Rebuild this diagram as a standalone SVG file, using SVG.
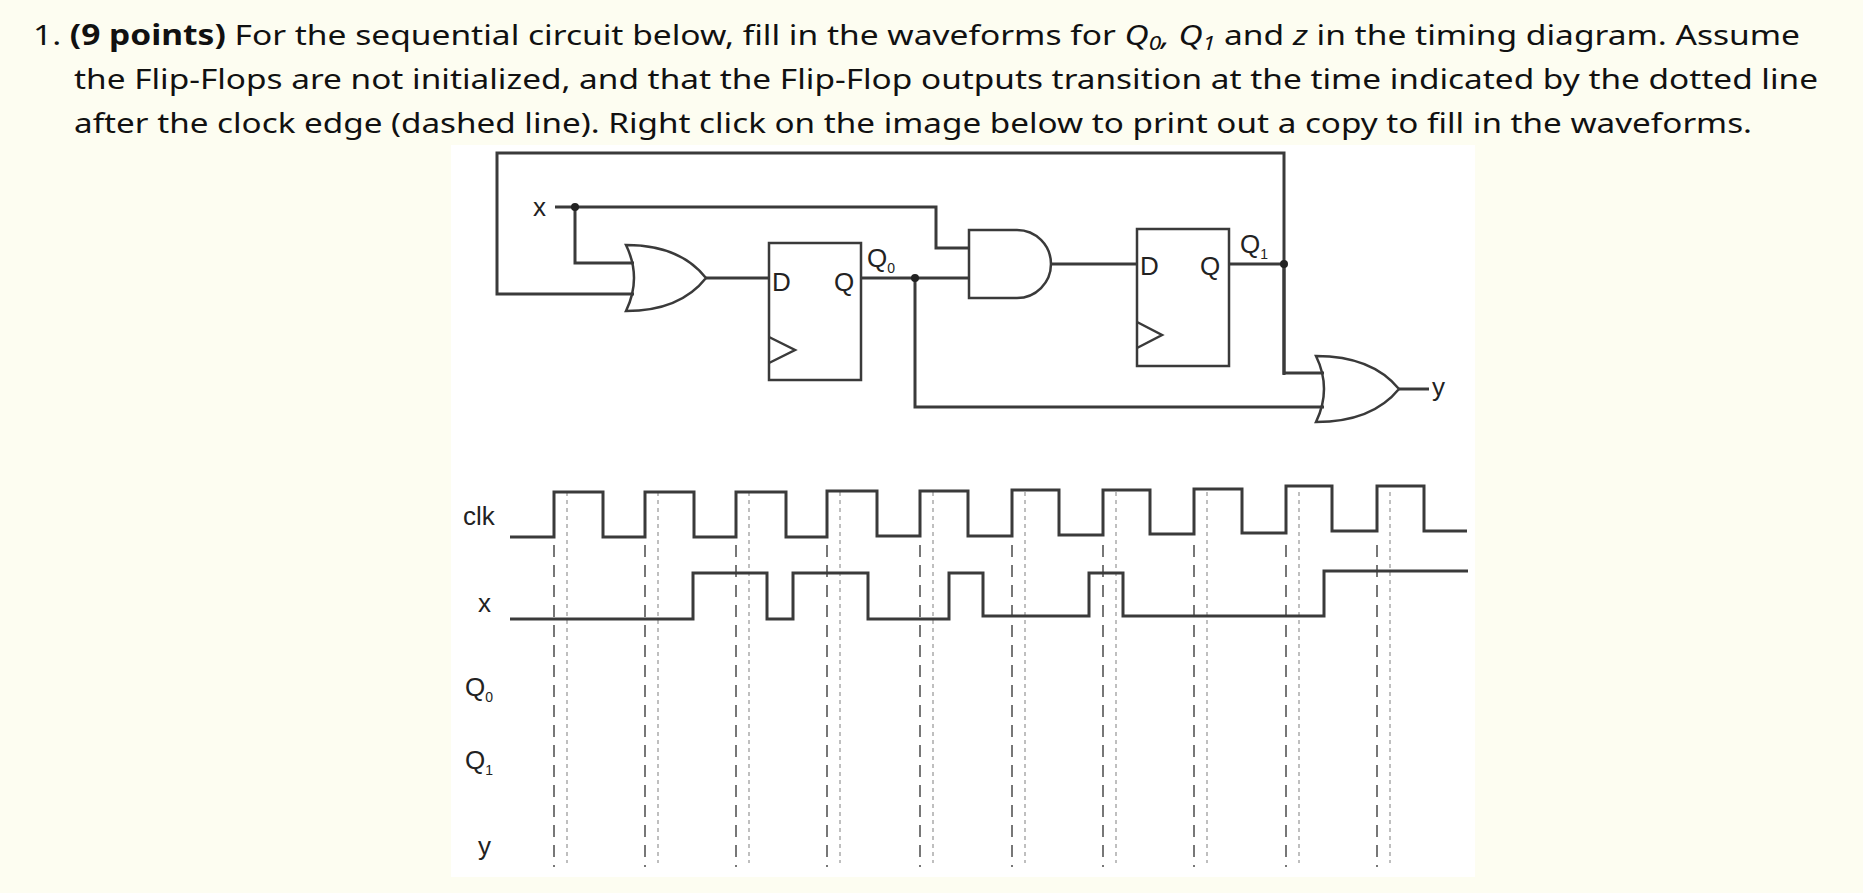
<svg xmlns="http://www.w3.org/2000/svg" width="1863" height="893" viewBox="0 0 1863 893">
<style>
.t{font-family:"Noto Sans","Open Sans","Liberation Sans",sans-serif;font-size:28px;fill:#111}
.w{fill:none;stroke:#3a3a3a;stroke-width:3;stroke-linejoin:miter}
.g{fill:none;stroke:#3a3a3a;stroke-width:2.5}
.l{font-family:"Liberation Sans",Arial,sans-serif;fill:#222;font-size:22px}
.c{font-size:26px}
.dash{stroke:#777;stroke-width:2;stroke-dasharray:12,8}
.dot{stroke:#aaa;stroke-width:1.5;stroke-dasharray:4,4}
</style>
<rect width="1863" height="893" fill="#fdfdf1"/>
<rect x="451" y="145" width="1024" height="732" fill="#fff"/>
<g id="title">
<text class="t" x="33" y="45" textLength="1767" lengthAdjust="spacingAndGlyphs">1. <tspan font-weight="bold">(9 points)</tspan> For the sequential circuit below, fill in the waveforms for <tspan font-style="italic">Q<tspan font-size="19" dy="5">0</tspan><tspan dy="-5">,</tspan> Q<tspan font-size="19" dy="5">1</tspan></tspan><tspan dy="-5"> and </tspan><tspan font-style="italic">z</tspan> in the timing diagram. Assume</text>
<text class="t" x="74" y="89" textLength="1744" lengthAdjust="spacingAndGlyphs">the Flip-Flops are not initialized, and that the Flip-Flop outputs transition at the time indicated by the dotted line</text>
<text class="t" x="74" y="133" textLength="1678" lengthAdjust="spacingAndGlyphs">after the clock edge (dashed line). Right click on the image below to print out a copy to fill in the waveforms.</text>
</g>
<g id="connectors">
<path class="w" d="M555,207 H936 V248 H969"/>
<path class="w" d="M575,207 V263 H634"/>
<path class="w" d="M1284,375 V153 H497 V294 H634"/>
<path class="w" d="M706,278 H769"/>
<path class="w" d="M861,278 H969"/>
<path class="w" d="M915,278 V407 H1324"/>
<path class="w" d="M1051,264 H1137"/>
<path class="w" d="M1229,264 H1284 V373 H1324"/>
<path class="w" d="M1399,389 H1429"/>
<circle cx="575" cy="207" r="4" fill="#222"/>
<circle cx="915" cy="278" r="4" fill="#222"/>
<circle cx="1284" cy="264" r="4" fill="#222"/>
</g>
<g id="x-in"><text class="l c" x="533" y="216">x</text></g>
<g id="or1"><path class="g" d="M626,245 Q642,278 626,311 Q680,311 706,278 Q680,245 626,245 Z" fill="#fff"/></g>
<g id="dff0">
<rect class="g" x="769" y="243" width="92" height="137" fill="#fff"/>
<path class="g" d="M769,337 L795,350 L769,363"/>
<text class="l c" x="772" y="291">D</text><text class="l c" x="834" y="291">Q</text>
<text class="l c" x="867" y="267">Q<tspan font-size="14" dy="6">0</tspan></text>
</g>
<g id="and1"><path class="g" d="M969,230 H1017 A34,34 0 0 1 1017,298 H969 Z" fill="#fff"/></g>
<g id="dff1">
<rect class="g" x="1137" y="229" width="92" height="137" fill="#fff"/>
<path class="g" d="M1137,322 L1162,335 L1137,348"/>
<text class="l c" x="1140" y="275">D</text><text class="l c" x="1200" y="275">Q</text>
<text class="l c" x="1240" y="253">Q<tspan font-size="14" dy="6">1</tspan></text>
</g>
<g id="or2"><path class="g" d="M1316,356 Q1332,389 1316,422 Q1372,422 1399,389 Q1372,356 1316,356 Z" fill="#fff"/>
<text class="l c" x="1432" y="396">y</text></g>
<g id="timing">
<g id="guides">
<path class="dash" d="M554,545V867M645,545V867M736,545V867M827,545V867M920,545V867M1012,545V867M1103,545V867M1194,545V867M1286,545V867M1377,545V867"/>
<path class="dot" d="M567,492V863M658,492V863M749,492V863M840,492V863M933,492V863M1025,492V863M1116,492V863M1207,492V863M1299,492V863M1390,492V863"/>
</g>
<path class="w" d="M510,537 H554 V492 H603 V537 H645 V492 H694 V537 H736 V492 H786 V537 H827 V491 H877 V536 H920 V491 H968 V536 H1012 V490 H1059 V535 H1103 V490 H1150 V534 H1194 V489 H1242 V533 H1286 V486 H1332 V531 H1377 V486 H1424 V531 H1467"/>
<path class="w" d="M510,619 H693 V573 H767 V619 H793 V573 H868 V619 H949 V573 H983 V616 H1089 V573 H1123 V616 H1324 V571 H1468"/>
<text class="l c" x="463" y="525">clk</text>
<text class="l c" x="478" y="612">x</text>
<text class="l c" x="465" y="696">Q<tspan font-size="14" dy="6">0</tspan></text>
<text class="l c" x="465" y="769">Q<tspan font-size="14" dy="6">1</tspan></text>
<text class="l c" x="478" y="855">y</text>
</g>
</svg>
